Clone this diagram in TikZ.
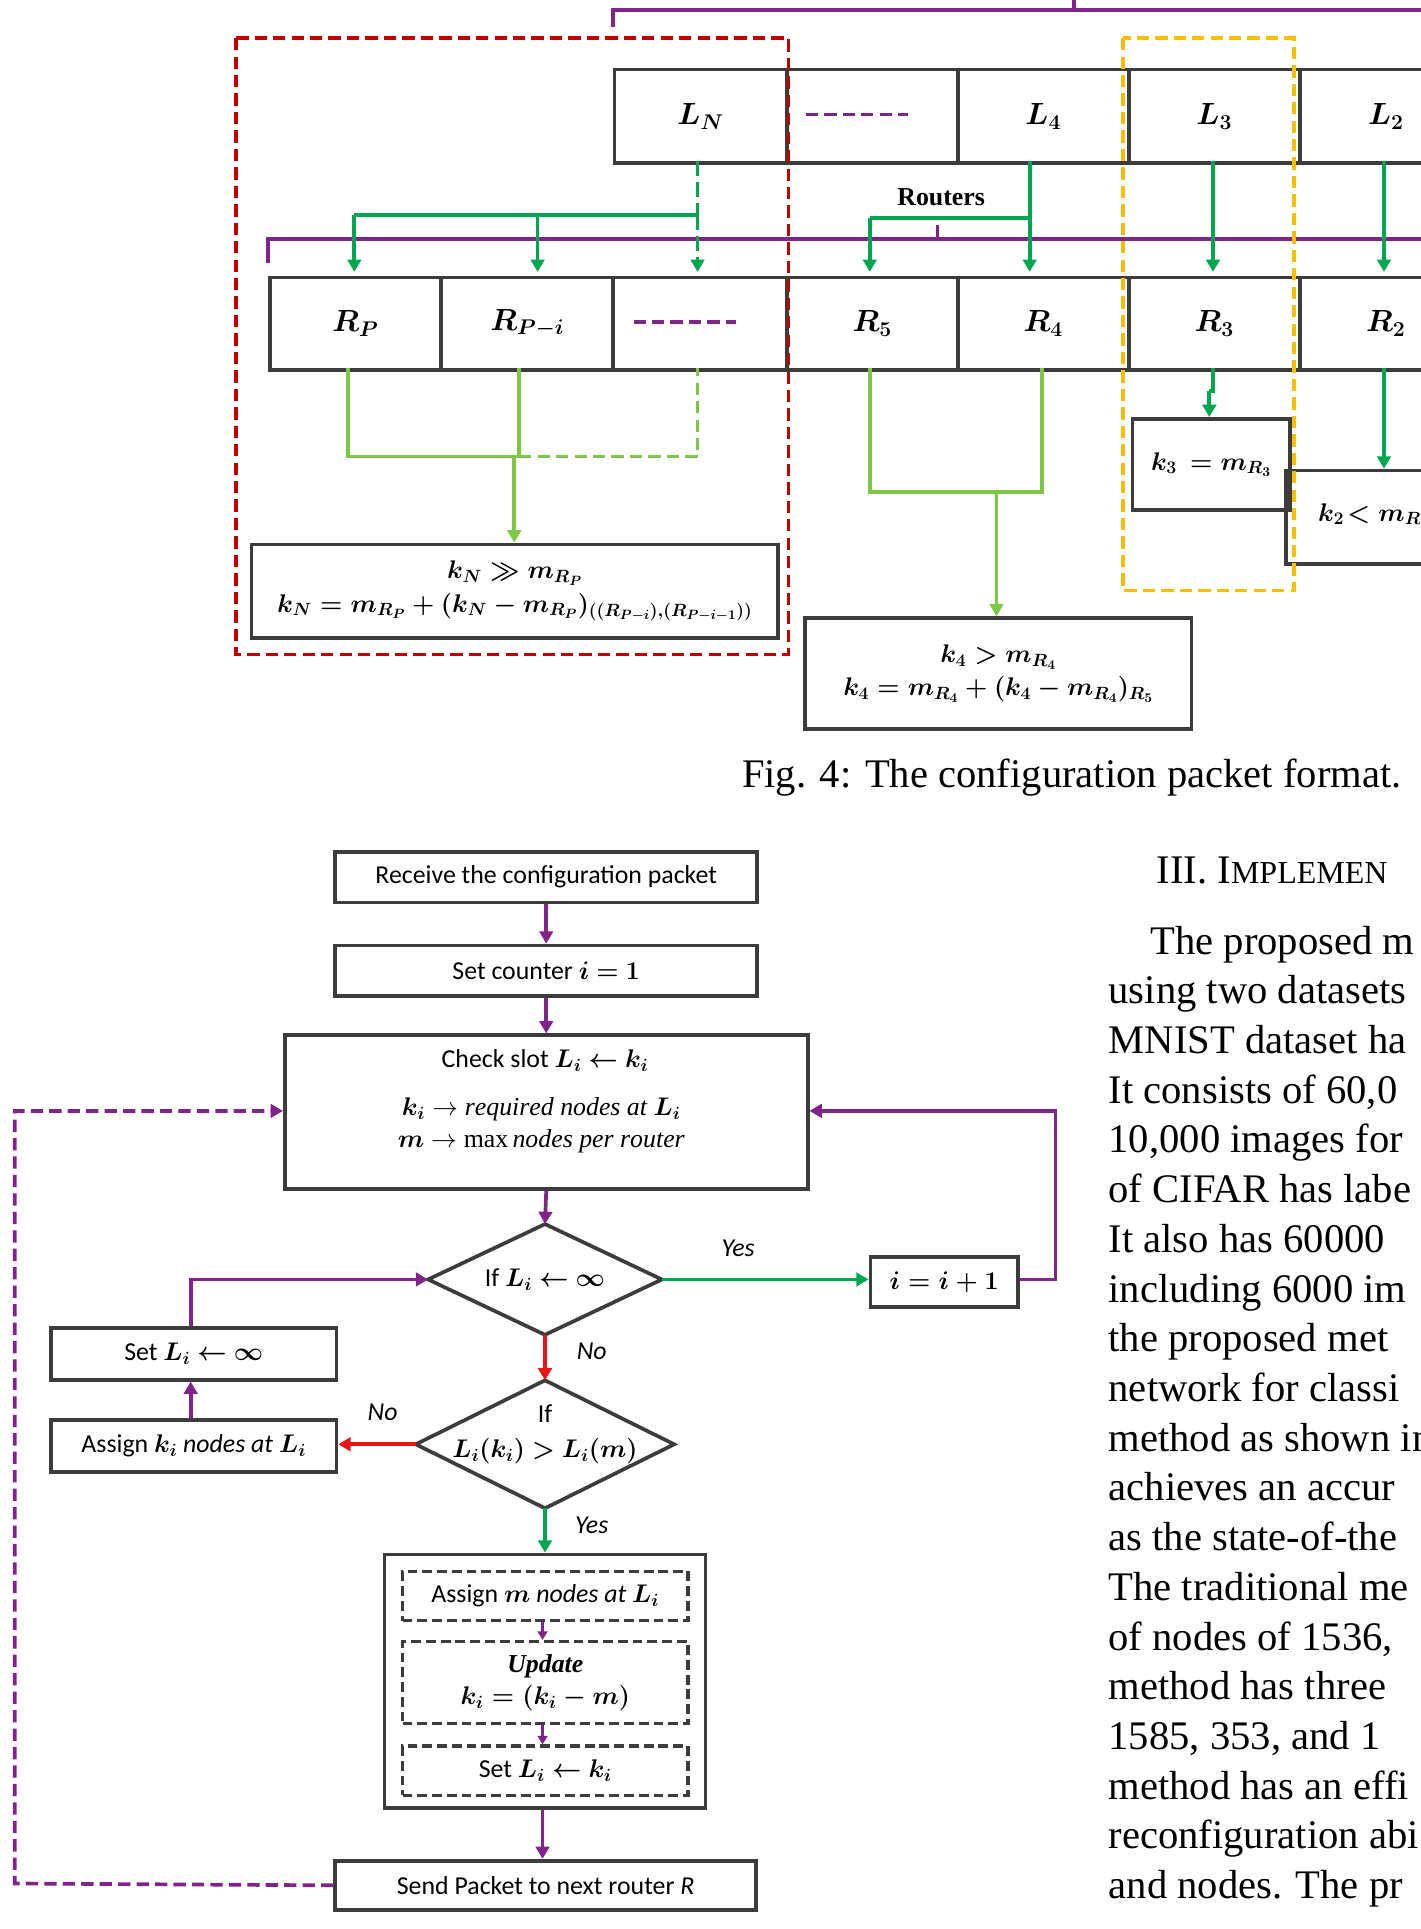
\documentclass[tikz,border=0pt]{standalone}
\usepackage{amsmath,amssymb,bm}
\usepackage{fontspec}
\setmainfont{Liberation Serif}
\newfontfamily\fsans{Carlito}
\usetikzlibrary{arrows.meta,shapes.geometric}
\definecolor{pur}{RGB}{128,36,140}
\definecolor{grn}{RGB}{0,166,80}
\definecolor{lgr}{RGB}{124,200,68}
\definecolor{dred}{RGB}{192,0,0}
\definecolor{yel}{RGB}{250,190,0}
\definecolor{frm}{RGB}{60,60,60}
\definecolor{rred}{RGB}{235,20,20}
\tikzset{
 cell/.style={draw=frm,line width=3pt,inner sep=0},
 box/.style={draw=frm,line width=3pt,inner sep=0,align=center,font=\fsans\fontsize{21}{26}\selectfont},
 ibox/.style={draw=frm,line width=2.5pt,dash pattern=on 8pt off 4pt,inner sep=0,align=center,font=\fsans\fontsize{21}{26}\selectfont},
 lab/.style={font=\bfseries\boldmath\fontsize{23}{26}\selectfont},
 fml/.style={font=\boldmath\fontsize{22}{27}\selectfont,align=center},
 ga/.style={grn,line width=3pt,-{Triangle[length=10pt,width=11pt]}},
 gl/.style={grn,line width=3pt},
 la/.style={lgr,line width=3pt},
 pa/.style={pur,line width=3pt,-{Triangle[length=10pt,width=11pt]}},
 pl/.style={pur,line width=3pt},
 ra/.style={rred,line width=3pt,-{Triangle[length=10pt,width=11pt]}},
 yn/.style={font=\fsans\itshape\fontsize{21}{24}\selectfont},
 body/.style={anchor=base west,inner sep=0,font=\fontsize{33}{40}\selectfont},
}
\begin{document}
\begin{tikzpicture}[x=1pt,y=-1pt]
\useasboundingbox (0,0) rectangle (1155,1568);
\clip (0,0) rectangle (1155,1568);
% ---------- top figure ----------
\draw[pl] (498,22) -- (498,8) -- (1160,8);
\draw[pl] (873,0) -- (873,8);
\foreach \a/\b/\n in {498/638/LN,638/777/LD,777/916/L4,916/1055/L3,1055/1195/L2}
  \node[cell,minimum width=\b-\a,minimum height=76,anchor=north west] (\n) at (\a,55) {};
\node[lab] at (LN) {$L_N$};
\node[lab] at (L4) {$L_4$};
\node[lab] at (L3) {$L_3$};
\node[lab] at (L2) {$L_2$};
\draw[pur,line width=3pt,dash pattern=on 10pt off 5pt] (655,93) -- (738,93);
\foreach \a/\b/\n in {218/357/RP,357/497/RPi,497/638/RD,638/777/R5,777/916/R4,916/1055/R3,1055/1195/R2}
  \node[cell,minimum width=\b-\a,minimum height=75,anchor=north west] (\n) at (\a,224) {};
\node[lab] at (RP) {$R_P$};
\node[lab] at (RPi) {$R_{P-i}$};
\node[lab] at (R5) {$R_5$};
\node[lab] at (R4) {$R_4$};
\node[lab] at (R3) {$R_3$};
\node[lab] at (R2) {$R_2$};
\draw[pur,line width=3pt,dash pattern=on 10pt off 5pt] (515,262) -- (598,262);
\draw[pl] (218,214) -- (218,194) -- (1160,194);
\draw[pl] (762,183) -- (762,194);
\node[font=\bfseries\fontsize{21}{24}\selectfont] (routers) at (765,160) {Routers};
\draw[gl,dash pattern=on 12pt off 5pt] (567,131) -- (567,175);
\draw[ga,dash pattern=on 12pt off 5pt] (567,175) -- (567,221);
\draw[gl] (567,175) -- (288,175);
\draw[ga] (288,175) -- (288,221);
\draw[ga] (437,175) -- (437,221);
\draw[ga] (837,131) -- (837,221);
\draw[gl] (837,177) -- (707,177);
\draw[ga] (707,177) -- (707,221);
\draw[ga] (986,131) -- (986,221);
\draw[ga] (1125,131) -- (1125,221);
\draw[la] (283,299) -- (283,371) -- (422,371);
\draw[la] (422,299) -- (422,371);
\draw[la,dash pattern=on 10pt off 5pt] (422,371) -- (567,371) -- (567,299);
\node[box,minimum width=428,minimum height=76,anchor=north west] (kN) at (203,441) {};
\node[fml] at (kN) {$k_N \gg m_{R_P}$\\$k_N = m_{R_P}+(k_N-m_{R_P})_{((R_{P-i}),(R_{P-i-1}))}$};
\draw[lgr,line width=3pt,-{Triangle[length=10pt,width=11pt]}] (418,371) -- (kN.north -| 418,0);
\draw[la] (707,299) -- (707,400) -- (847,400) -- (847,299);
\node[box,minimum width=314,minimum height=90,anchor=north west] (k4) at (653,501) {};
\node[fml] at (k4) {$k_4 > m_{R_4}$\\$k_4 = m_{R_4}+(k_4-m_{R_4})_{R_5}$};
\draw[lgr,line width=3pt,-{Triangle[length=10pt,width=11pt]}] (810,400) -- (k4.north -| 810,0);
\node[box,minimum width=128,minimum height=74,anchor=north west] (k3) at (919,339) {};
\node[fml] at (k3) {$k_3\,=m_{R_3}$};
\draw[gl] (986,299) -- (986,318) -- (983,318);
\draw[ga] (983,318) -- (k3.north -| 983,0);
\node[box,minimum width=160,minimum height=76,anchor=north west] (k2) at (1044,381) {};
\node[fml,anchor=west] at (1068,419) {$k_2\!<m_{R_2}$};
\draw[ga] (1125,299) -- (k2.north -| 1125,0);
\draw[dred,line width=3pt,dash pattern=on 10pt off 5pt] (192,31) rectangle (641,532);
\draw[yel,line width=3pt,dash pattern=on 10pt off 5pt] (913,31) rectangle (1052,480);
\node[body] (cap) at (603,640) {Fig. 4: The configuration packet format.};
% ---------- flowchart ----------
\node[box,minimum width=343,minimum height=41,anchor=north west] (rcv) at (271,691) {Receive the configuration packet};
\node[box,minimum width=343,minimum height=41,anchor=north west] (cnt) at (271,767) {Set counter $\bm{i=1}$};
\node[box,minimum width=425,minimum height=125,anchor=north west] (chk) at (230,840) {};
\node[font=\fsans\fontsize{21}{26}\selectfont] (chkt) at (443,862) {Check slot $\bm{L_i\leftarrow k_i}$};
\node[font=\fontsize{21}{26}\selectfont,align=center] (chkm) at (440,915) {$\bm{k_i}\rightarrow \mathit{required\ nodes\ at}\ \bm{L_i}$\\$\bm{m}\rightarrow \max \mathit{nodes\ per\ router}$};
\coordinate (d1t) at (443,995); \coordinate (d1b) at (443,1085);
\coordinate (d1l) at (348,1040); \coordinate (d1r) at (538,1040);
\draw[frm,line width=3pt] (d1t) -- (d1r) -- (d1b) -- (d1l) -- cycle;
\node[font=\fsans\fontsize{21}{26}\selectfont] (d1) at (443,1040) {If $\bm{L_i\leftarrow\infty}$};
\node[box,minimum width=120,minimum height=41,anchor=north west,font=\boldmath\fontsize{21}{26}\selectfont] (inc) at (706,1020) {$i=i+1$};
\node[box,minimum width=232,minimum height=42,anchor=north west] (setinf) at (40,1078) {Set $\bm{L_i\leftarrow\infty}$};
\node[box,minimum width=232,minimum height=42,anchor=north west] (asg) at (40,1153) {Assign $\bm{k_i}$ \textit{nodes at} $\bm{L_i}$};
\coordinate (d2t) at (443,1122); \coordinate (d2b) at (443,1226);
\coordinate (d2l) at (338,1174); \coordinate (d2r) at (548,1174);
\draw[frm,line width=3pt] (d2t) -- (d2r) -- (d2b) -- (d2l) -- cycle;
\node[font=\fsans\fontsize{21}{26}\selectfont,align=center] (d2) at (443,1166) {If\\[2pt]$\bm{L_i(k_i)>L_i(m)}$};
\node[box,minimum width=261,minimum height=206,anchor=north west] (big) at (311,1262) {};
\node[ibox,minimum width=232,minimum height=40,anchor=north west] (b1) at (326,1276) {Assign $\bm{m}$ \textit{nodes at} $\bm{L_i}$};
\node[ibox,minimum width=232,minimum height=67,anchor=north west,font=\boldmath\fontsize{21}{26}\selectfont] (b2) at (326,1333) {$\bm{\mathit{Update}}$\\$k_i=(k_i-m)$};
\node[ibox,minimum width=232,minimum height=40,anchor=north west] (b3) at (326,1418) {Set $\bm{L_i\leftarrow k_i}$};
\node[box,minimum width=342,minimum height=40,anchor=north west] (snd) at (271,1511) {Send Packet to next router \textit{R}};
\draw[pa] (rcv) -- (cnt);
\draw[pa] (cnt) -- (chk);
\draw[pa] (chk.south) -- (d1t);
\draw[grn,line width=3pt,-{Triangle[length=10pt,width=11pt]}] (d1r) -- (inc.west |- d1r);
\node[yn] at (600,1015) {Yes};
\draw[pa] (inc.east |- d1r) -- (858,1040) -- (858,903) -- (chk.east |- 0,903);
\draw[ra] (d1b) -- (d2t);
\node[yn] at (481,1098) {No};
\draw[ra] (d2l) -- (asg.east |- d2l);
\node[yn] at (311,1148) {No};
\draw[pa] (asg.north -| 155,0) -- (setinf.south -| 155,0);
\draw[pa] (setinf.north -| 155,0) -- (155,1040) -- (d1l);
\draw[grn,line width=3pt,-{Triangle[length=10pt,width=11pt]}] (d2b) -- (big.north -| d2b);
\node[yn] at (481,1240) {Yes};
\draw[pur,line width=2.5pt,-{Triangle[length=7pt,width=8pt]}] (b1.south -| 441,0) -- (b2.north -| 441,0);
\draw[pur,line width=2.5pt,-{Triangle[length=7pt,width=8pt]}] (b2.south -| 441,0) -- (b3.north -| 441,0);
\draw[pa] (big.south -| 441,0) -- (snd.north -| 441,0);
\draw[pa,dash pattern=on 10pt off 5pt] (snd.west) -- (12,1531) -- (12,903) -- (chk.west |- 0,903);
% ---------- body text ----------
\node[body] (h) at (940,718) {III. I{\fontsize{26}{30}\selectfont MPLEMEN}};
\foreach \t [count=\i from 0] in {{using two datasets},{MNIST dataset ha},{It consists of 60,0},{10,000 images for},{of CIFAR has labe},{It also has 60000},{including 6000 im},{the proposed met},{network for classi},{method as shown in},{achieves an accur},{as the state-of-the},{The traditional me},{of nodes of 1536,},{method has three},{1585, 353, and 1},{method has an effi},{reconfiguration abi},{and nodes. The pr}}
  \node[body] at (901,816+40.4*\i) {\t};
\node[body] (p1) at (935,776) {The proposed m};
\end{tikzpicture}
\end{document}
